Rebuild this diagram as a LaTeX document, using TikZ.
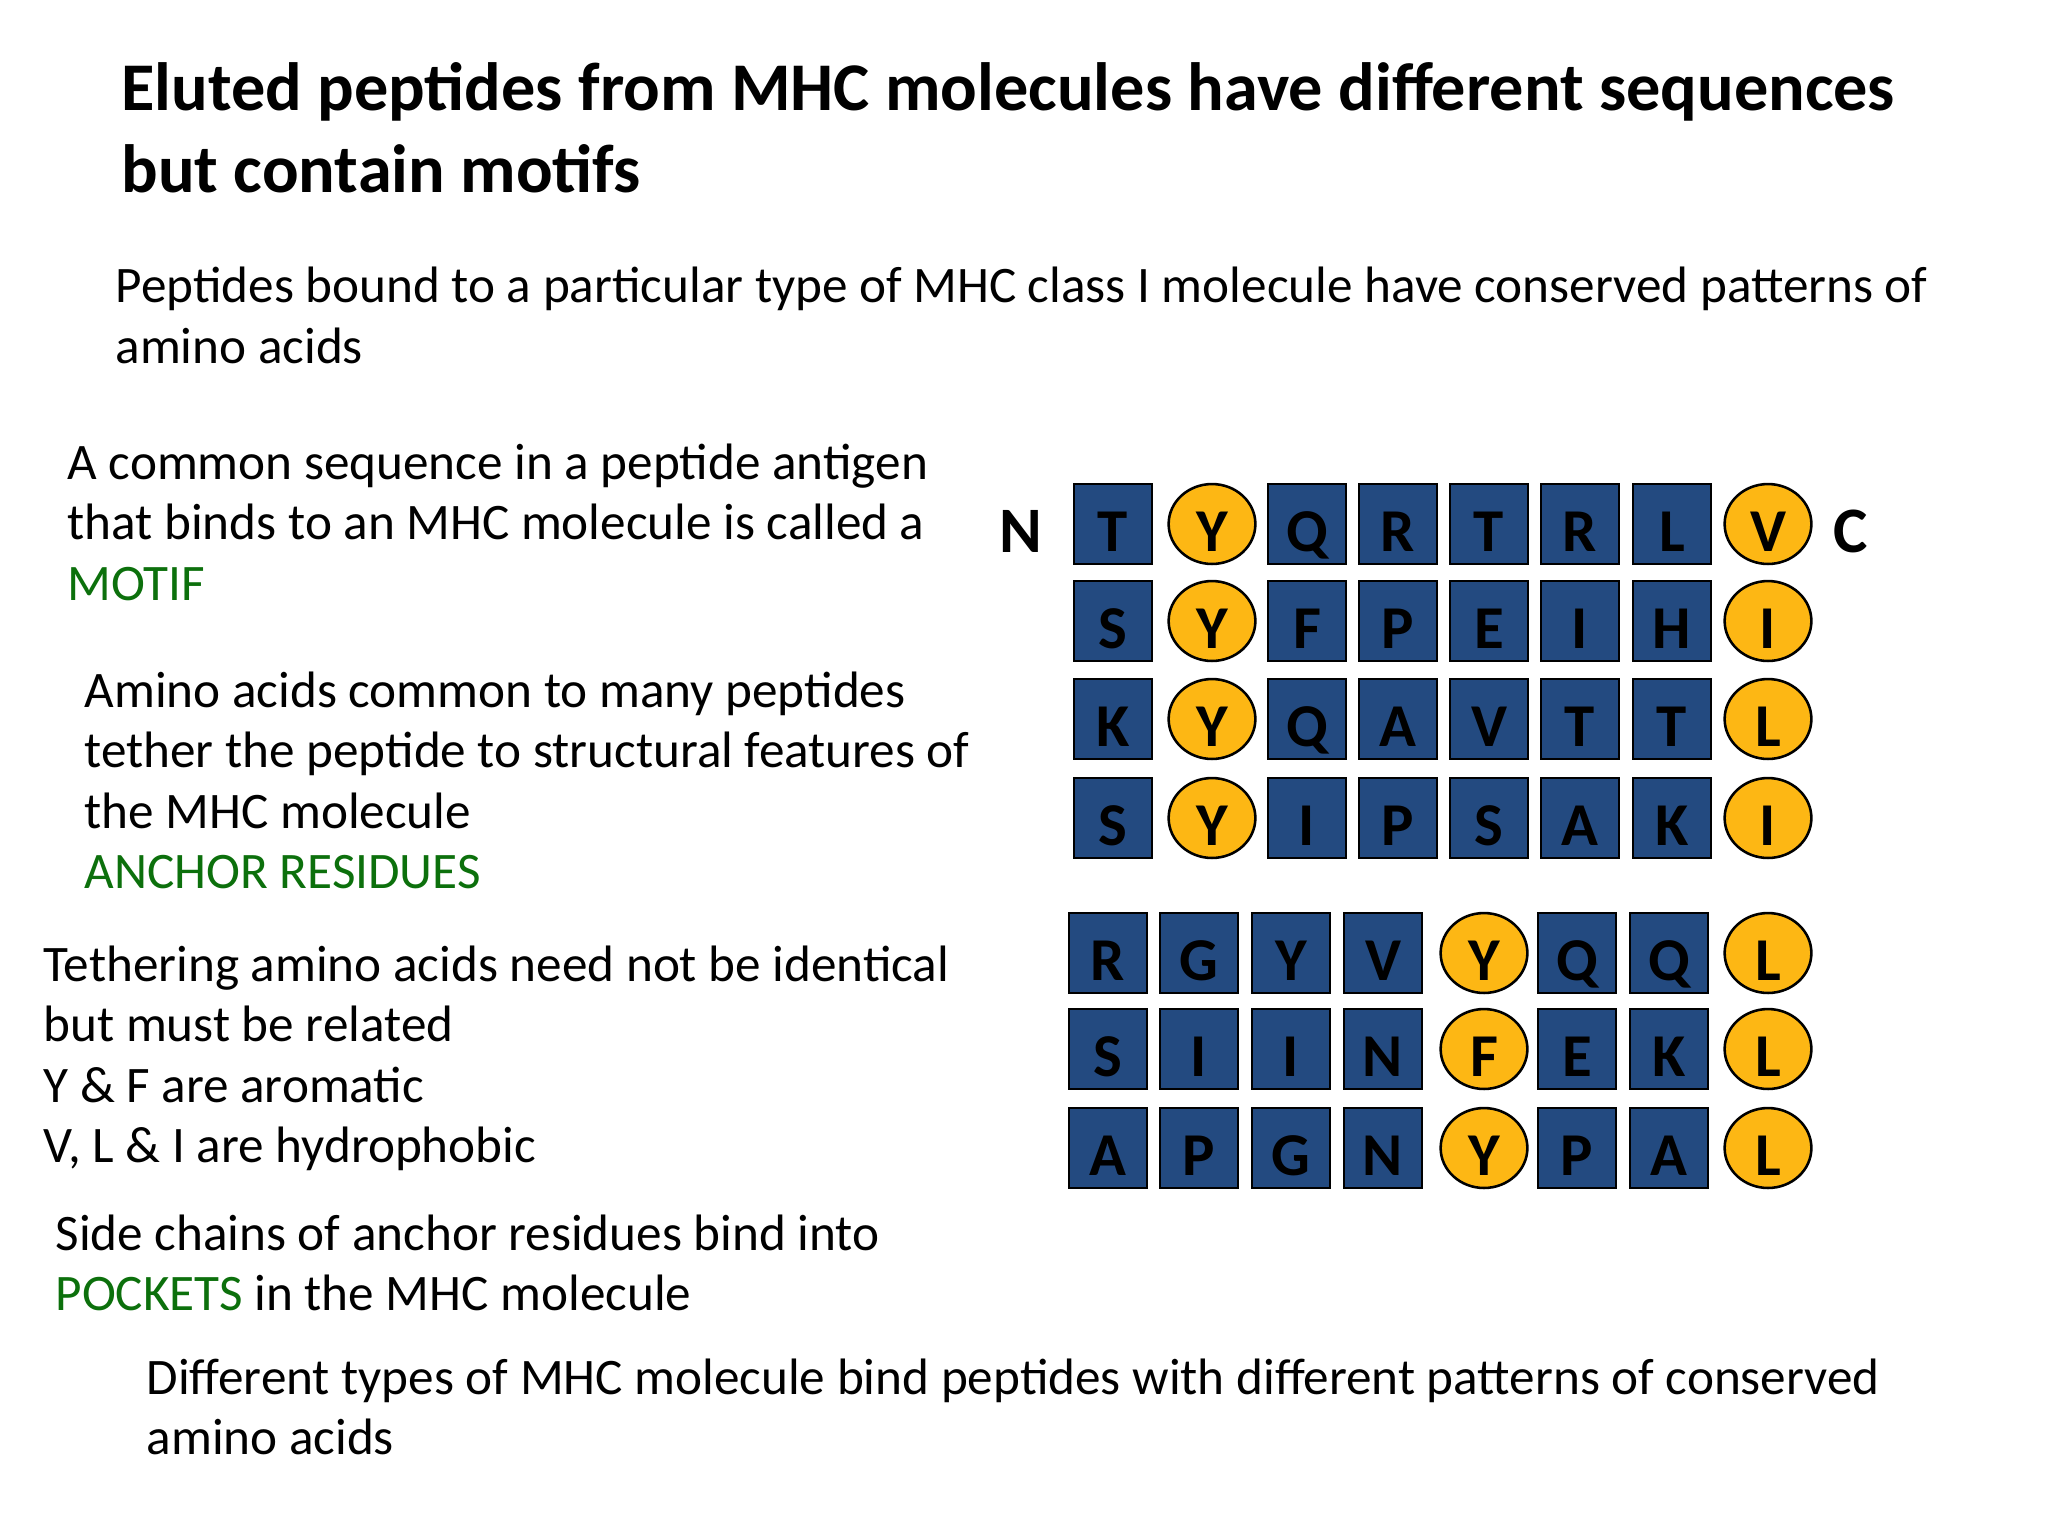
\documentclass[tikz,border=0pt]{standalone}
\usepackage{fontspec}
\setmainfont{Carlito}
\usetikzlibrary{shapes.geometric}

\definecolor{resblue}{RGB}{35,74,128}
\definecolor{resgold}{RGB}{253,183,20}
\definecolor{termgreen}{RGB}{12,112,12}

\tikzset{
 resbox/.style={draw=black, line width=0.7pt, fill=resblue, minimum width=27.4pt, minimum height=28.1pt,
  inner sep=0pt, text height=19pt, text depth=0pt, font=\bfseries\fontsize{21.4}{24}\selectfont},
 anchorres/.style={ellipse, draw=black, line width=0.9pt, fill=resgold, minimum width=30.5pt, minimum height=28.1pt,
  inner sep=0pt, text height=19pt, text depth=0pt, font=\bfseries\fontsize{21.4}{24}\selectfont},
 endlabel/.style={anchor=base, inner sep=0pt, font=\bfseries\fontsize{22.8}{26}\selectfont},
 para/.style={anchor=base west, inner sep=0pt, align=left, font=\fontsize{18}{21.1}\selectfont},
 headline/.style={anchor=base west, inner sep=0pt, align=left, font=\bfseries\fontsize{24}{28.5}\selectfont}
}

\begin{document}
\begin{tikzpicture}[x=0.3516pt,y=0.3516pt]
\useasboundingbox[fill=white] (0,0) rectangle (2048,-1536);

\node[headline] (title) at (121,-192) {Eluted peptides from MHC molecules have different sequences\\but contain motifs};
\node[para] (intro) at (115,-363) {Peptides bound to a particular type of MHC class I molecule have conserved patterns of\\amino acids};

\node[para] (motif) at (67,-600) {A common sequence in a peptide antigen\\that binds to an MHC molecule is called a\\\textcolor{termgreen}{MOTIF}};
\node[para] (anchors) at (84,-888) {Amino acids common to many peptides\\tether the peptide to structural features of\\the MHC molecule\\\textcolor{termgreen}{ANCHOR RESIDUES}};
\node[para] (tether) at (43,-1162) {Tethering amino acids need not be identical\\but must be related\\Y \& F are aromatic\\V, L \& I are hydrophobic};
\node[para] (pockets) at (55,-1310) {Side chains of anchor residues bind into\\\textcolor{termgreen}{POCKETS} in the MHC molecule};
\node[para] (types) at (146,-1454) {Different types of MHC molecule bind peptides with different patterns of conserved\\amino acids};

\foreach \r/\yy/\seq in {1/524/{T,Y,Q,R,T,R,L,V},2/621/{S,Y,F,P,E,I,H,I},3/719/{K,Y,Q,A,V,T,T,L},4/818/{S,Y,I,P,S,A,K,I}}
 \foreach \res [count=\i] in \seq {
  \pgfmathsetmacro\xx{{1113,1212,1307,1398,1489,1580,1672,1768}[\i-1]}
  \ifnum\i=2 \def\kind{anchorres}\else\ifnum\i=8 \def\kind{anchorres}\else\def\kind{resbox}\fi\fi
  \node[\kind] (p\r-\i) at (\xx,-\yy) {\res};
 }

\foreach \r/\yy/\seq in {5/953/{R,G,Y,V,Y,Q,Q,L},6/1049/{S,I,I,N,F,E,K,L},7/1148/{A,P,G,N,Y,P,A,L}}
 \foreach \res [count=\i] in \seq {
  \pgfmathsetmacro\xx{{1108,1199,1291,1383,1484,1577,1669,1768}[\i-1]}
  \ifnum\i=5 \def\kind{anchorres}\else\ifnum\i=8 \def\kind{anchorres}\else\def\kind{resbox}\fi\fi
  \node[\kind] (p\r-\i) at (\xx,-\yy) {\res};
 }

\node[endlabel] (nterm) at (1021,-552) {N};
\node[endlabel] (cterm) at (1851,-552) {C};
\end{tikzpicture}
\end{document}
